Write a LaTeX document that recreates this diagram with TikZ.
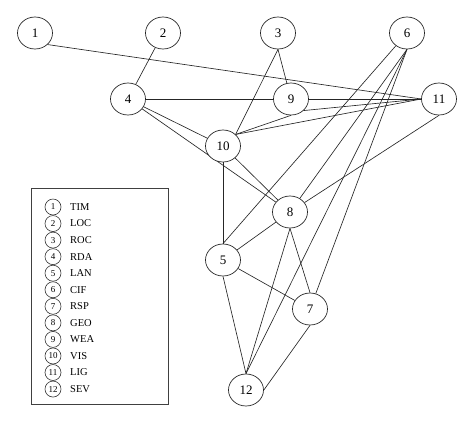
\documentclass[tikz,border=0pt]{standalone}
\usepackage{fontspec}
\setmainfont{Liberation Serif}
\usetikzlibrary{shapes.geometric,backgrounds}

\begin{document}
\begin{tikzpicture}[x=1pt, y=-1pt,
    vertex/.style={ellipse, draw=black!85, line width=0.7pt, fill=white,
        minimum width=35pt, minimum height=32pt, inner sep=0pt,
        font=\fontsize{13}{15}\selectfont},
    edge/.style={black!85, line width=0.65pt},
    keynum/.style={circle, draw=black!80, line width=0.6pt, minimum size=16pt,
        inner sep=0pt, font=\fontsize{9}{10}\selectfont},
    keytext/.style={anchor=west, inner sep=0pt, font=\fontsize{10.5}{11}\selectfont}]
    \useasboundingbox (0,0) rectangle (474,424);

    % Top row
    \node[vertex] (n1) at (35,33) {1};
    \node[vertex] (n2) at (163,33) {2};
    \node[vertex] (n3) at (278,33) {3};
    \node[vertex] (n6) at (407,33) {6};

    % Second row
    \node[vertex] (n4) at (128,99) {4};
    \node[vertex] (n9) at (291,99) {9};
    \node[vertex] (n11) at (439,99) {11};

    % Lower part
    \node[vertex] (n10) at (223,146) {10};
    \node[vertex] (n8) at (290,212) {8};
    \node[vertex] (n5) at (223,260) {5};
    \node[vertex] (n7) at (310,309) {7};
    \node[vertex] (n12) at (246,390) {12};

    % Edges (behind the vertices)
    \begin{scope}[on background layer]
        \draw[edge] (n1.south east) -- (n11.west);
        \draw[edge] (n4) -- (n11.west);
        \draw[edge] (n9.south east) -- (n11.west);
        \draw[edge] (n10.north east) -- (n11.west);
        \draw[edge] (n2) -- (n4);
        \draw[edge] (n3.south) -- (n9);
        \draw[edge] (n3.south) -- (n10.north east);
        \draw[edge] (n10.north east) -- (n9.south);
        \draw[edge] (n4) -- (n10);
        \draw[edge] (n4) -- (n8);
        \draw[edge] (n10) -- (n8);
        \draw[edge] (n10) -- (n5);
        \draw[edge] (n6) -- (n5.north);
        \draw[edge] (n6.south) -- (n8);
        \draw[edge] (n6.south) -- (n12.north);
        \draw[edge] (n6.south) -- (n7);
        \draw[edge] (n11.south) -- (n8);
        \draw[edge] (n8) -- (n5);
        \draw[edge] (n8.south) -- (n12.north);
        \draw[edge] (n8.south) -- (n7.north);
        \draw[edge] (n5) -- (n7);
        \draw[edge] (n5.south) -- (n12.north);
        \draw[edge] (n7.south) -- (n12.east);
    \end{scope}

    % Legend
    \draw[black!75, line width=0.8pt] (31,188) rectangle (168,404);
    \foreach \n/\lab [count=\i from 0] in {1/TIM, 2/LOC, 3/ROC, 4/RDA, 5/LAN, 6/CIF,
        7/RSP, 8/GEO, 9/WEA, 10/VIS, 11/LIG, 12/SEV}
    {
        \node[keynum] (k\n) at (53,207+16.55*\i) {\n};
        \node[keytext] (t\n) at (70,207+16.55*\i) {\lab};
    }
\end{tikzpicture}
\end{document}
